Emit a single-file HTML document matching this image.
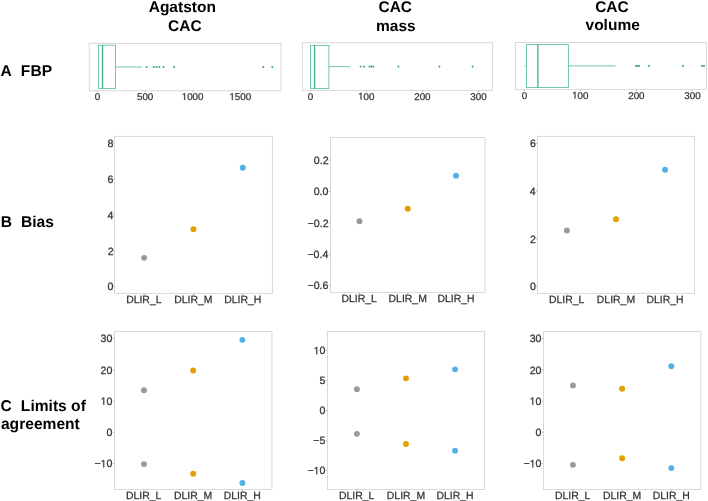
<!DOCTYPE html>
<html><head><meta charset="utf-8"><style>
html,body{margin:0;padding:0;background:#fff;}
body{width:708px;height:501px;overflow:hidden;}
svg{display:block;font-family:"Liberation Sans",sans-serif;will-change:transform;text-rendering:geometricPrecision;}
</style></head><body>
<svg width="708" height="501" viewBox="0 0 708 501">
<rect width="708" height="501" fill="#fff"/>
<text x="148.71" y="11.6" font-size="15.5" font-weight="bold" fill="#000">Agatston</text>
<text x="168.06" y="30.6" font-size="15.5" font-weight="bold" fill="#000">CAC</text>
<text x="378.46" y="11.6" font-size="15.5" font-weight="bold" fill="#000">CAC</text>
<text x="376.08" y="30.7" font-size="15.5" font-weight="bold" fill="#000">mass</text>
<text x="595.16" y="11.6" font-size="15.5" font-weight="bold" fill="#000">CAC</text>
<text x="585.54" y="30.3" font-size="15.5" font-weight="bold" fill="#000">volume</text>
<text x="0.61" y="76.2" font-size="15.6" font-weight="bold" fill="#000">A</text>
<text x="20.86" y="76.2" font-size="15.6" font-weight="bold" fill="#000">FBP</text>
<text x="0.76" y="226.5" font-size="15.6" font-weight="bold" fill="#000">B</text>
<text x="20.96" y="226.5" font-size="15.6" font-weight="bold" fill="#000">Bias</text>
<text x="0.46" y="410.8" font-size="15.6" font-weight="bold" fill="#000">C</text>
<text x="20.86" y="410.8" font-size="15.6" font-weight="bold" fill="#000">Limits of</text>
<text x="0.94" y="429.4" font-size="15.6" font-weight="bold" fill="#000">agreement</text>
<rect x="89.2" y="43.4" width="191.8" height="47.3" fill="none" stroke="#d9d9d9" stroke-width="1"/>
<line x1="97.5" y1="91.2" x2="97.5" y2="92.3" stroke="#999999" stroke-width="0.8"/>
<text x="94.77" y="99.9" font-size="9.8" stroke="#333333" stroke-width="0.25" fill="#333333">0</text>
<line x1="145.16" y1="91.2" x2="145.16" y2="92.3" stroke="#999999" stroke-width="0.8"/>
<text x="136.97" y="99.9" font-size="9.8" stroke="#333333" stroke-width="0.25" fill="#333333">500</text>
<line x1="192.81" y1="91.2" x2="192.81" y2="92.3" stroke="#999999" stroke-width="0.8"/>
<path transform="translate(181.73,99.9) scale(0.00479,-0.00479)" d="M515 0L696 0L696 1409L540 1409L197 1170L197 1000L515 1222Z" fill="#333333" stroke="#333333" stroke-width="52.2"/>
<text x="187.18" y="99.9" font-size="9.8" stroke="#333333" stroke-width="0.25" fill="#333333">000</text>
<line x1="240.47" y1="91.2" x2="240.47" y2="92.3" stroke="#999999" stroke-width="0.8"/>
<path transform="translate(229.38,99.9) scale(0.00479,-0.00479)" d="M515 0L696 0L696 1409L540 1409L197 1170L197 1000L515 1222Z" fill="#333333" stroke="#333333" stroke-width="52.2"/>
<text x="234.83" y="99.9" font-size="9.8" stroke="#333333" stroke-width="0.25" fill="#333333">500</text>
<rect x="98.4" y="45.2" width="17" height="43.2" fill="none" stroke="#5fbd9c" stroke-width="0.85"/>
<line x1="102.55" y1="45.2" x2="102.55" y2="88.4" stroke="#3fae88" stroke-width="1.3"/>
<line x1="115.4" y1="67" x2="142" y2="67" stroke="#5fbd9c" stroke-width="0.85"/>
<rect x="145.75" y="66.15" width="1.7" height="1.7" fill="#2a9e74"/>
<rect x="152.85" y="66.15" width="1.7" height="1.7" fill="#2a9e74"/>
<rect x="155.65" y="66.15" width="1.7" height="1.7" fill="#2a9e74"/>
<rect x="158.55" y="66.15" width="1.7" height="1.7" fill="#2a9e74"/>
<rect x="162.55" y="66.15" width="1.7" height="1.7" fill="#2a9e74"/>
<rect x="173.35" y="66.15" width="1.7" height="1.7" fill="#2a9e74"/>
<rect x="262.45" y="66.15" width="1.7" height="1.7" fill="#2a9e74"/>
<rect x="271.45" y="66.15" width="1.7" height="1.7" fill="#2a9e74"/>
<rect x="302.4" y="42.7" width="190.1" height="47.7" fill="none" stroke="#d9d9d9" stroke-width="1"/>
<line x1="310.46" y1="90.9" x2="310.46" y2="92" stroke="#999999" stroke-width="0.8"/>
<text x="307.73" y="99.6" font-size="9.8" stroke="#333333" stroke-width="0.25" fill="#333333">0</text>
<line x1="366.46" y1="90.9" x2="366.46" y2="92" stroke="#999999" stroke-width="0.8"/>
<path transform="translate(358.1,99.6) scale(0.00479,-0.00479)" d="M515 0L696 0L696 1409L540 1409L197 1170L197 1000L515 1222Z" fill="#333333" stroke="#333333" stroke-width="52.2"/>
<text x="363.55" y="99.6" font-size="9.8" stroke="#333333" stroke-width="0.25" fill="#333333">00</text>
<line x1="422.46" y1="90.9" x2="422.46" y2="92" stroke="#999999" stroke-width="0.8"/>
<text x="414.23" y="99.6" font-size="9.8" stroke="#333333" stroke-width="0.25" fill="#333333">200</text>
<line x1="478.46" y1="90.9" x2="478.46" y2="92" stroke="#999999" stroke-width="0.8"/>
<text x="470.29" y="99.6" font-size="9.8" stroke="#333333" stroke-width="0.25" fill="#333333">300</text>
<rect x="310.46" y="45.4" width="18.44" height="43" fill="none" stroke="#5fbd9c" stroke-width="0.85"/>
<line x1="314.6" y1="45.4" x2="314.6" y2="88.4" stroke="#3fae88" stroke-width="1.3"/>
<line x1="328.9" y1="66.6" x2="350.3" y2="66.6" stroke="#5fbd9c" stroke-width="0.85"/>
<rect x="359.75" y="65.75" width="1.7" height="1.7" fill="#2a9e74"/>
<rect x="363.05" y="65.75" width="1.7" height="1.7" fill="#2a9e74"/>
<rect x="368.65" y="65.75" width="1.7" height="1.7" fill="#2a9e74"/>
<rect x="370.65" y="65.75" width="1.7" height="1.7" fill="#2a9e74"/>
<rect x="372.45" y="65.75" width="1.7" height="1.7" fill="#2a9e74"/>
<rect x="397.55" y="65.75" width="1.7" height="1.7" fill="#2a9e74"/>
<rect x="438.55" y="65.75" width="1.7" height="1.7" fill="#2a9e74"/>
<rect x="471.75" y="65.75" width="1.7" height="1.7" fill="#2a9e74"/>
<rect x="515.4" y="42.5" width="191" height="46.9" fill="none" stroke="#d9d9d9" stroke-width="1"/>
<line x1="524.46" y1="89.9" x2="524.46" y2="91" stroke="#999999" stroke-width="0.8"/>
<text x="521.73" y="98.6" font-size="9.8" stroke="#333333" stroke-width="0.25" fill="#333333">0</text>
<line x1="580.46" y1="89.9" x2="580.46" y2="91" stroke="#999999" stroke-width="0.8"/>
<path transform="translate(572.1,98.6) scale(0.00479,-0.00479)" d="M515 0L696 0L696 1409L540 1409L197 1170L197 1000L515 1222Z" fill="#333333" stroke="#333333" stroke-width="52.2"/>
<text x="577.55" y="98.6" font-size="9.8" stroke="#333333" stroke-width="0.25" fill="#333333">00</text>
<line x1="636.46" y1="89.9" x2="636.46" y2="91" stroke="#999999" stroke-width="0.8"/>
<text x="628.23" y="98.6" font-size="9.8" stroke="#333333" stroke-width="0.25" fill="#333333">200</text>
<line x1="692.46" y1="89.9" x2="692.46" y2="91" stroke="#999999" stroke-width="0.8"/>
<text x="684.29" y="98.6" font-size="9.8" stroke="#333333" stroke-width="0.25" fill="#333333">300</text>
<rect x="526.45" y="44.6" width="41.95" height="42.9" fill="none" stroke="#5fbd9c" stroke-width="0.85"/>
<line x1="537.9" y1="44.6" x2="537.9" y2="87.5" stroke="#3fae88" stroke-width="1.3"/>
<line x1="568.4" y1="65.9" x2="615.5" y2="65.9" stroke="#5fbd9c" stroke-width="0.85"/>
<line x1="524.6" y1="65.9" x2="526.45" y2="65.9" stroke="#5fbd9c" stroke-width="0.85"/>
<rect x="635.15" y="65.05" width="1.7" height="1.7" fill="#2a9e74"/>
<rect x="636.65" y="65.05" width="1.7" height="1.7" fill="#2a9e74"/>
<rect x="638.15" y="65.05" width="1.7" height="1.7" fill="#2a9e74"/>
<rect x="648.05" y="65.05" width="1.7" height="1.7" fill="#2a9e74"/>
<rect x="682.05" y="65.05" width="1.7" height="1.7" fill="#2a9e74"/>
<rect x="701.15" y="65.05" width="1.7" height="1.7" fill="#2a9e74"/>
<rect x="703.15" y="65.05" width="1.7" height="1.7" fill="#2a9e74"/>
<rect x="114.5" y="136.4" width="157.9" height="157" fill="none" stroke="#d9d9d9" stroke-width="1"/>
<line x1="112.9" y1="286.46" x2="114" y2="286.46" stroke="#999999" stroke-width="0.8"/>
<text x="107.52" y="290.26" font-size="10.6" stroke="#333333" stroke-width="0.25" fill="#333333">0</text>
<line x1="112.9" y1="250.71" x2="114" y2="250.71" stroke="#999999" stroke-width="0.8"/>
<text x="107.64" y="254.51" font-size="10.6" stroke="#333333" stroke-width="0.25" fill="#333333">2</text>
<line x1="112.9" y1="214.96" x2="114" y2="214.96" stroke="#999999" stroke-width="0.8"/>
<text x="107.42" y="218.76" font-size="10.6" stroke="#333333" stroke-width="0.25" fill="#333333">4</text>
<line x1="112.9" y1="179.21" x2="114" y2="179.21" stroke="#999999" stroke-width="0.8"/>
<text x="107.57" y="183.01" font-size="10.6" stroke="#333333" stroke-width="0.25" fill="#333333">6</text>
<line x1="112.9" y1="143.46" x2="114" y2="143.46" stroke="#999999" stroke-width="0.8"/>
<text x="107.57" y="147.26" font-size="10.6" stroke="#333333" stroke-width="0.25" fill="#333333">8</text>
<line x1="144.11" y1="293.9" x2="144.11" y2="295" stroke="#999999" stroke-width="0.8"/>
<text x="126.14" y="302.6" font-size="10.45" stroke="#333333" stroke-width="0.25" fill="#333333">DLIR_L</text>
<line x1="193.45" y1="293.9" x2="193.45" y2="295" stroke="#999999" stroke-width="0.8"/>
<text x="174.29" y="302.6" font-size="10.45" stroke="#333333" stroke-width="0.25" fill="#333333">DLIR_M</text>
<line x1="242.79" y1="293.9" x2="242.79" y2="295" stroke="#999999" stroke-width="0.8"/>
<text x="224.21" y="302.6" font-size="10.45" stroke="#333333" stroke-width="0.25" fill="#333333">DLIR_H</text>
<circle cx="144.11" cy="257.86" r="2.95" fill="#999999"/>
<circle cx="193.45" cy="229.26" r="2.95" fill="#e69f00"/>
<circle cx="242.79" cy="167.77" r="2.95" fill="#51b0e8"/>
<rect x="330.5" y="137.5" width="154.5" height="154.9" fill="none" stroke="#d9d9d9" stroke-width="1"/>
<line x1="328.9" y1="160.13" x2="330" y2="160.13" stroke="#999999" stroke-width="0.8"/>
<text x="313.8" y="163.93" font-size="10.6" stroke="#333333" stroke-width="0.25" fill="#333333">0.2</text>
<line x1="328.9" y1="191.46" x2="330" y2="191.46" stroke="#999999" stroke-width="0.8"/>
<text x="313.68" y="195.26" font-size="10.6" stroke="#333333" stroke-width="0.25" fill="#333333">0.0</text>
<line x1="328.9" y1="222.79" x2="330" y2="222.79" stroke="#999999" stroke-width="0.8"/>
<text x="307.61" y="226.59" font-size="10.6" stroke="#333333" stroke-width="0.25" fill="#333333">−0.2</text>
<line x1="328.9" y1="254.13" x2="330" y2="254.13" stroke="#999999" stroke-width="0.8"/>
<text x="307.38" y="257.93" font-size="10.6" stroke="#333333" stroke-width="0.25" fill="#333333">−0.4</text>
<line x1="328.9" y1="285.46" x2="330" y2="285.46" stroke="#999999" stroke-width="0.8"/>
<text x="307.54" y="289.26" font-size="10.6" stroke="#333333" stroke-width="0.25" fill="#333333">−0.6</text>
<line x1="359.47" y1="292.9" x2="359.47" y2="294" stroke="#999999" stroke-width="0.8"/>
<text x="341.5" y="301.6" font-size="10.45" stroke="#333333" stroke-width="0.25" fill="#333333">DLIR_L</text>
<line x1="407.75" y1="292.9" x2="407.75" y2="294" stroke="#999999" stroke-width="0.8"/>
<text x="388.59" y="301.6" font-size="10.45" stroke="#333333" stroke-width="0.25" fill="#333333">DLIR_M</text>
<line x1="456.03" y1="292.9" x2="456.03" y2="294" stroke="#999999" stroke-width="0.8"/>
<text x="437.45" y="301.6" font-size="10.45" stroke="#333333" stroke-width="0.25" fill="#333333">DLIR_H</text>
<circle cx="359.47" cy="221.23" r="2.95" fill="#999999"/>
<circle cx="407.75" cy="208.69" r="2.95" fill="#e69f00"/>
<circle cx="456.03" cy="175.79" r="2.95" fill="#51b0e8"/>
<rect x="537.46" y="136.4" width="157.04" height="157" fill="none" stroke="#d9d9d9" stroke-width="1"/>
<line x1="535.86" y1="286.46" x2="536.96" y2="286.46" stroke="#999999" stroke-width="0.8"/>
<text x="529.92" y="290.26" font-size="10.6" stroke="#333333" stroke-width="0.25" fill="#333333">0</text>
<line x1="535.86" y1="238.79" x2="536.96" y2="238.79" stroke="#999999" stroke-width="0.8"/>
<text x="530.04" y="242.59" font-size="10.6" stroke="#333333" stroke-width="0.25" fill="#333333">2</text>
<line x1="535.86" y1="191.13" x2="536.96" y2="191.13" stroke="#999999" stroke-width="0.8"/>
<text x="529.82" y="194.93" font-size="10.6" stroke="#333333" stroke-width="0.25" fill="#333333">4</text>
<line x1="535.86" y1="143.46" x2="536.96" y2="143.46" stroke="#999999" stroke-width="0.8"/>
<text x="529.97" y="147.26" font-size="10.6" stroke="#333333" stroke-width="0.25" fill="#333333">6</text>
<line x1="566.9" y1="293.9" x2="566.9" y2="295" stroke="#999999" stroke-width="0.8"/>
<text x="548.93" y="302.6" font-size="10.45" stroke="#333333" stroke-width="0.25" fill="#333333">DLIR_L</text>
<line x1="615.98" y1="293.9" x2="615.98" y2="295" stroke="#999999" stroke-width="0.8"/>
<text x="596.82" y="302.6" font-size="10.45" stroke="#333333" stroke-width="0.25" fill="#333333">DLIR_M</text>
<line x1="665.06" y1="293.9" x2="665.06" y2="295" stroke="#999999" stroke-width="0.8"/>
<text x="646.47" y="302.6" font-size="10.45" stroke="#333333" stroke-width="0.25" fill="#333333">DLIR_H</text>
<circle cx="566.9" cy="230.45" r="2.95" fill="#999999"/>
<circle cx="615.98" cy="219.25" r="2.95" fill="#e69f00"/>
<circle cx="665.06" cy="169.68" r="2.95" fill="#51b0e8"/>
<rect x="114.45" y="331.5" width="157.45" height="158" fill="none" stroke="#d9d9d9" stroke-width="1"/>
<line x1="112.85" y1="338.46" x2="113.95" y2="338.46" stroke="#999999" stroke-width="0.8"/>
<text x="100.62" y="342.26" font-size="10.6" stroke="#333333" stroke-width="0.25" fill="#333333">30</text>
<line x1="112.85" y1="369.74" x2="113.95" y2="369.74" stroke="#999999" stroke-width="0.8"/>
<text x="100.62" y="373.54" font-size="10.6" stroke="#333333" stroke-width="0.25" fill="#333333">20</text>
<line x1="112.85" y1="401.02" x2="113.95" y2="401.02" stroke="#999999" stroke-width="0.8"/>
<path transform="translate(100.62,404.82) scale(0.00518,-0.00518)" d="M515 0L696 0L696 1409L540 1409L197 1170L197 1000L515 1222Z" fill="#333333" stroke="#333333" stroke-width="48.3"/>
<text x="106.52" y="404.82" font-size="10.6" stroke="#333333" stroke-width="0.25" fill="#333333">0</text>
<line x1="112.85" y1="432.3" x2="113.95" y2="432.3" stroke="#999999" stroke-width="0.8"/>
<text x="106.52" y="436.1" font-size="10.6" stroke="#333333" stroke-width="0.25" fill="#333333">0</text>
<line x1="112.85" y1="463.58" x2="113.95" y2="463.58" stroke="#999999" stroke-width="0.8"/>
<text x="94.43" y="467.38" font-size="10.6" stroke="#333333" stroke-width="0.25" fill="#333333">−</text>
<path transform="translate(100.62,467.38) scale(0.00518,-0.00518)" d="M515 0L696 0L696 1409L540 1409L197 1170L197 1000L515 1222Z" fill="#333333" stroke="#333333" stroke-width="48.3"/>
<text x="106.52" y="467.38" font-size="10.6" stroke="#333333" stroke-width="0.25" fill="#333333">0</text>
<line x1="143.97" y1="490" x2="143.97" y2="491.1" stroke="#999999" stroke-width="0.8"/>
<text x="126" y="498.7" font-size="10.45" stroke="#333333" stroke-width="0.25" fill="#333333">DLIR_L</text>
<line x1="193.18" y1="490" x2="193.18" y2="491.1" stroke="#999999" stroke-width="0.8"/>
<text x="174.01" y="498.7" font-size="10.45" stroke="#333333" stroke-width="0.25" fill="#333333">DLIR_M</text>
<line x1="242.38" y1="490" x2="242.38" y2="491.1" stroke="#999999" stroke-width="0.8"/>
<text x="223.79" y="498.7" font-size="10.45" stroke="#333333" stroke-width="0.25" fill="#333333">DLIR_H</text>
<circle cx="143.97" cy="390.23" r="2.95" fill="#999999"/>
<circle cx="143.97" cy="464.08" r="2.95" fill="#999999"/>
<circle cx="193.18" cy="370.43" r="2.95" fill="#e69f00"/>
<circle cx="193.18" cy="473.78" r="2.95" fill="#e69f00"/>
<circle cx="242.38" cy="339.87" r="2.95" fill="#51b0e8"/>
<circle cx="242.38" cy="483.07" r="2.95" fill="#51b0e8"/>
<rect x="327.45" y="331.5" width="157.05" height="158" fill="none" stroke="#d9d9d9" stroke-width="1"/>
<line x1="325.85" y1="350.46" x2="326.95" y2="350.46" stroke="#999999" stroke-width="0.8"/>
<path transform="translate(313.62,354.26) scale(0.00518,-0.00518)" d="M515 0L696 0L696 1409L540 1409L197 1170L197 1000L515 1222Z" fill="#333333" stroke="#333333" stroke-width="48.3"/>
<text x="319.52" y="354.26" font-size="10.6" stroke="#333333" stroke-width="0.25" fill="#333333">0</text>
<line x1="325.85" y1="380.46" x2="326.95" y2="380.46" stroke="#999999" stroke-width="0.8"/>
<text x="319.55" y="384.26" font-size="10.6" stroke="#333333" stroke-width="0.25" fill="#333333">5</text>
<line x1="325.85" y1="410.46" x2="326.95" y2="410.46" stroke="#999999" stroke-width="0.8"/>
<text x="319.52" y="414.26" font-size="10.6" stroke="#333333" stroke-width="0.25" fill="#333333">0</text>
<line x1="325.85" y1="440.46" x2="326.95" y2="440.46" stroke="#999999" stroke-width="0.8"/>
<text x="313.36" y="444.26" font-size="10.6" stroke="#333333" stroke-width="0.25" fill="#333333">−5</text>
<line x1="325.85" y1="470.46" x2="326.95" y2="470.46" stroke="#999999" stroke-width="0.8"/>
<text x="307.43" y="474.26" font-size="10.6" stroke="#333333" stroke-width="0.25" fill="#333333">−</text>
<path transform="translate(313.62,474.26) scale(0.00518,-0.00518)" d="M515 0L696 0L696 1409L540 1409L197 1170L197 1000L515 1222Z" fill="#333333" stroke="#333333" stroke-width="48.3"/>
<text x="319.52" y="474.26" font-size="10.6" stroke="#333333" stroke-width="0.25" fill="#333333">0</text>
<line x1="356.9" y1="490" x2="356.9" y2="491.1" stroke="#999999" stroke-width="0.8"/>
<text x="338.93" y="498.7" font-size="10.45" stroke="#333333" stroke-width="0.25" fill="#333333">DLIR_L</text>
<line x1="405.98" y1="490" x2="405.98" y2="491.1" stroke="#999999" stroke-width="0.8"/>
<text x="386.81" y="498.7" font-size="10.45" stroke="#333333" stroke-width="0.25" fill="#333333">DLIR_M</text>
<line x1="455.05" y1="490" x2="455.05" y2="491.1" stroke="#999999" stroke-width="0.8"/>
<text x="436.47" y="498.7" font-size="10.45" stroke="#333333" stroke-width="0.25" fill="#333333">DLIR_H</text>
<circle cx="356.9" cy="389.16" r="2.95" fill="#999999"/>
<circle cx="356.9" cy="433.86" r="2.95" fill="#999999"/>
<circle cx="405.98" cy="378.36" r="2.95" fill="#e69f00"/>
<circle cx="405.98" cy="444.06" r="2.95" fill="#e69f00"/>
<circle cx="455.05" cy="369.36" r="2.95" fill="#51b0e8"/>
<circle cx="455.05" cy="450.66" r="2.95" fill="#51b0e8"/>
<rect x="543.45" y="331.5" width="157.35" height="158" fill="none" stroke="#d9d9d9" stroke-width="1"/>
<line x1="541.85" y1="338.46" x2="542.95" y2="338.46" stroke="#999999" stroke-width="0.8"/>
<text x="529.67" y="342.26" font-size="10.6" stroke="#333333" stroke-width="0.25" fill="#333333">30</text>
<line x1="541.85" y1="369.74" x2="542.95" y2="369.74" stroke="#999999" stroke-width="0.8"/>
<text x="529.67" y="373.54" font-size="10.6" stroke="#333333" stroke-width="0.25" fill="#333333">20</text>
<line x1="541.85" y1="401.02" x2="542.95" y2="401.02" stroke="#999999" stroke-width="0.8"/>
<path transform="translate(529.67,404.82) scale(0.00518,-0.00518)" d="M515 0L696 0L696 1409L540 1409L197 1170L197 1000L515 1222Z" fill="#333333" stroke="#333333" stroke-width="48.3"/>
<text x="535.57" y="404.82" font-size="10.6" stroke="#333333" stroke-width="0.25" fill="#333333">0</text>
<line x1="541.85" y1="432.3" x2="542.95" y2="432.3" stroke="#999999" stroke-width="0.8"/>
<text x="535.57" y="436.1" font-size="10.6" stroke="#333333" stroke-width="0.25" fill="#333333">0</text>
<line x1="541.85" y1="463.58" x2="542.95" y2="463.58" stroke="#999999" stroke-width="0.8"/>
<text x="523.48" y="467.38" font-size="10.6" stroke="#333333" stroke-width="0.25" fill="#333333">−</text>
<path transform="translate(529.67,467.38) scale(0.00518,-0.00518)" d="M515 0L696 0L696 1409L540 1409L197 1170L197 1000L515 1222Z" fill="#333333" stroke="#333333" stroke-width="48.3"/>
<text x="535.57" y="467.38" font-size="10.6" stroke="#333333" stroke-width="0.25" fill="#333333">0</text>
<line x1="572.95" y1="490" x2="572.95" y2="491.1" stroke="#999999" stroke-width="0.8"/>
<text x="554.98" y="498.7" font-size="10.45" stroke="#333333" stroke-width="0.25" fill="#333333">DLIR_L</text>
<line x1="622.12" y1="490" x2="622.12" y2="491.1" stroke="#999999" stroke-width="0.8"/>
<text x="602.96" y="498.7" font-size="10.45" stroke="#333333" stroke-width="0.25" fill="#333333">DLIR_M</text>
<line x1="671.3" y1="490" x2="671.3" y2="491.1" stroke="#999999" stroke-width="0.8"/>
<text x="652.71" y="498.7" font-size="10.45" stroke="#333333" stroke-width="0.25" fill="#333333">DLIR_H</text>
<circle cx="572.95" cy="385.38" r="2.95" fill="#999999"/>
<circle cx="572.95" cy="464.83" r="2.95" fill="#999999"/>
<circle cx="622.12" cy="388.7" r="2.95" fill="#e69f00"/>
<circle cx="622.12" cy="458.26" r="2.95" fill="#e69f00"/>
<circle cx="671.3" cy="366.3" r="2.95" fill="#51b0e8"/>
<circle cx="671.3" cy="468.12" r="2.95" fill="#51b0e8"/>
</svg>
</body></html>
